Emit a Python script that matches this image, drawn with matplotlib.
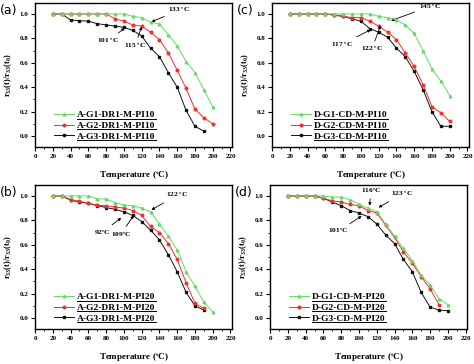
import matplotlib
matplotlib.use("Agg")
import matplotlib.pyplot as plt
from matplotlib.lines import Line2D
from matplotlib.ticker import MultipleLocator

plt.rcParams['font.family'] = ['Liberation Serif', 'DejaVu Serif']
plt.rcParams['font.weight'] = 'bold'
plt.rcParams['mathtext.default'] = 'regular'

temp = [20, 30, 40, 50, 60, 70, 80, 90, 100, 110, 120, 130, 140, 150, 160, 170, 180, 190, 200]
temp190 = temp[:-1]

# (a)
a_g1 = [1.0, 1.0, 1.0, 1.0, 1.0, 1.0, 1.0, 1.0, 1.0, 0.98, 0.97, 0.93, 0.92, 0.83, 0.74, 0.61, 0.52, 0.38, 0.24]
a_g2 = [1.0, 1.0, 1.0, 1.0, 1.0, 1.0, 1.0, 0.96, 0.94, 0.91, 0.90, 0.85, 0.79, 0.68, 0.54, 0.39, 0.22, 0.15, 0.10]
a_g3 = [1.0, 1.0, 0.95, 0.945, 0.94, 0.92, 0.91, 0.90, 0.89, 0.865, 0.82, 0.72, 0.65, 0.52, 0.40, 0.21, 0.08, 0.04]

# (b)
b_g1 = [1.0, 1.0, 1.0, 1.0, 1.0, 0.975, 0.975, 0.945, 0.925, 0.92, 0.90, 0.87, 0.77, 0.67, 0.56, 0.38, 0.26, 0.13, 0.05]
b_g2 = [1.0, 1.0, 0.97, 0.955, 0.94, 0.925, 0.92, 0.91, 0.90, 0.88, 0.84, 0.75, 0.70, 0.61, 0.48, 0.29, 0.12, 0.08]
b_g3 = [1.0, 1.0, 0.965, 0.95, 0.94, 0.92, 0.905, 0.89, 0.87, 0.84, 0.79, 0.72, 0.64, 0.52, 0.38, 0.21, 0.10, 0.065]

# (c)
c_g1 = [1.0, 1.0, 1.0, 1.0, 1.0, 1.0, 1.0, 1.0, 1.0, 1.0, 0.98, 0.97, 0.95, 0.91, 0.84, 0.70, 0.55, 0.45, 0.33]
c_g2 = [1.0, 1.0, 1.0, 1.0, 1.0, 0.99, 0.98, 0.97, 0.97, 0.94, 0.90, 0.85, 0.79, 0.68, 0.57, 0.42, 0.24, 0.19, 0.12]
c_g3 = [1.0, 1.0, 1.0, 1.0, 1.0, 0.99, 0.98, 0.96, 0.94, 0.88, 0.85, 0.81, 0.72, 0.65, 0.53, 0.38, 0.20, 0.08, 0.08]

# (d)
d_g1 = [1.0, 1.0, 1.0, 1.0, 1.0, 0.99, 0.99, 0.97, 0.93, 0.90, 0.87, 0.77, 0.67, 0.57, 0.47, 0.35, 0.27, 0.16, 0.11]
d_g2 = [1.0, 1.0, 1.0, 1.0, 0.98, 0.96, 0.95, 0.93, 0.92, 0.88, 0.86, 0.76, 0.66, 0.54, 0.45, 0.34, 0.24, 0.11]
d_g3 = [1.0, 1.0, 1.0, 1.0, 0.98, 0.95, 0.92, 0.88, 0.86, 0.83, 0.77, 0.68, 0.61, 0.48, 0.38, 0.21, 0.09, 0.065, 0.06]

green = '#66d966'
red = '#f03030'
black = '#111111'

panels = [
    ('(a)', [0.074, 0.596, 0.416, 0.396],
     [(temp, a_g1, 'A-G1-DR1-M-PI10'), (temp, a_g2, 'A-G2-DR1-M-PI10'), (temp190, a_g3, 'A-G3-DR1-M-PI10')],
     [('133 $^{\\circ}$C', (131, 0.935), (150, 1.03)),
      ('101 $^{\\circ}$C', (101, 0.885), (70, 0.78)),
      ('115 $^{\\circ}$C', (120, 0.895), (100, 0.74))]),
    ('(c)', [0.574, 0.596, 0.416, 0.396],
     [(temp, c_g1, 'D-G1-CD-M-PI10'), (temp, c_g2, 'D-G2-CD-M-PI10'), (temp, c_g3, 'D-G3-CD-M-PI10')],
     [('145 $^{\\circ}$C', (134, 0.945), (165, 1.06)),
      ('117 $^{\\circ}$C', (111, 0.87), (66, 0.75)),
      ('122 $^{\\circ}$C', (122, 0.905), (100, 0.71))]),
    ('(b)', [0.074, 0.096, 0.416, 0.396],
     [(temp, b_g1, 'A-G1-DR1-M-PI20'), (temp190, b_g2, 'A-G2-DR1-M-PI20'), (temp190, b_g3, 'A-G3-DR1-M-PI20')],
     [('122 $^{\\circ}$C', (131, 0.885), (147, 1.005)),
      ('92$^{\\circ}$C', (97, 0.82), (66, 0.70)),
      ('109$^{\\circ}$C', (111, 0.84), (85, 0.685))]),
    ('(d)', [0.570, 0.096, 0.416, 0.396],
     [(temp, d_g1, 'D-G1-CD-M-PI20'), (temp190, d_g2, 'D-G2-CD-M-PI20'), (temp, d_g3, 'D-G3-CD-M-PI20')],
     [('116$^{\\circ}$C', (112, 0.92), (102, 1.045)),
      ('123 $^{\\circ}$C', (122, 0.905), (136, 1.015)),
      ('101$^{\\circ}$C', (103, 0.835), (65, 0.71))]),
]

fig = plt.figure(figsize=(4.74, 3.64), dpi=100)
legends = []

for tag, pos, series, notes in panels:
    ax = fig.add_axes(pos)
    styles = [(green, '^', 3.2), (red, 'o', 2.6), (black, 's', 2.2)]
    for (xs, ys, lab), (col, mk, z) in zip(series, styles):
        ax.plot(xs, ys, color=col, marker=mk, markersize=1.9, lw=0.7, label=lab, zorder=z)
    ax.set_xlim(0, 222)
    ax.set_ylim(-0.09, 1.09)
    ax.xaxis.set_major_locator(MultipleLocator(20))
    ax.xaxis.set_minor_locator(MultipleLocator(10))
    ax.yaxis.set_major_locator(MultipleLocator(0.2))
    ax.yaxis.set_minor_locator(MultipleLocator(0.1))
    ax.yaxis.set_major_formatter(plt.FuncFormatter(lambda v, p: '%.1f' % v))
    ax.tick_params(which='major', length=3, width=0.8, labelsize=5, direction='out', pad=2)
    ax.tick_params(which='minor', length=1.6, width=0.6, direction='out')
    for sp in ax.spines.values():
        sp.set_linewidth(1.0)
    ax.set_xlabel('Temperature ($^{\\circ}$C)', fontsize=6.5, fontweight='bold', labelpad=7)
    ax.set_ylabel('r$_{33}$(t)/r$_{33}$(t$_0$)', fontsize=6, fontweight='bold', labelpad=4)
    for txt, tip, tpos in notes:
        ax.annotate(txt, xy=tip, xytext=tpos, fontsize=5.3, fontweight='bold',
                    ha='left', va='center',
                    arrowprops=dict(arrowstyle='-|>', lw=0.6, color='black',
                                    mutation_scale=4, shrinkA=1, shrinkB=0))
    leg = ax.legend(loc='lower left', bbox_to_anchor=(0.065, 0.005), frameon=False,
                    fontsize=6.8, handlelength=2.2, handletextpad=0.3,
                    labelspacing=0.22, borderaxespad=0.2)
    legends.append(leg)
    fig.text(pos[0] - 0.074, pos[1] + pos[3] - 0.003, tag, fontsize=9,
             family='DejaVu Sans', fontweight='normal', va='top', ha='left')

# underline the legend labels
fig.canvas.draw()
inv = fig.transFigure.inverted()
for leg in legends:
    for t in leg.get_texts():
        bb = t.get_window_extent()
        (x0, y0), (x1, y1) = inv.transform([(bb.x0, bb.y0), (bb.x1, bb.y1)])
        fig.add_artist(Line2D([x0, x1], [y0 + 0.002, y0 + 0.002], color='black',
                              lw=0.7, transform=fig.transFigure))

fig.savefig('out.png', dpi=100)
